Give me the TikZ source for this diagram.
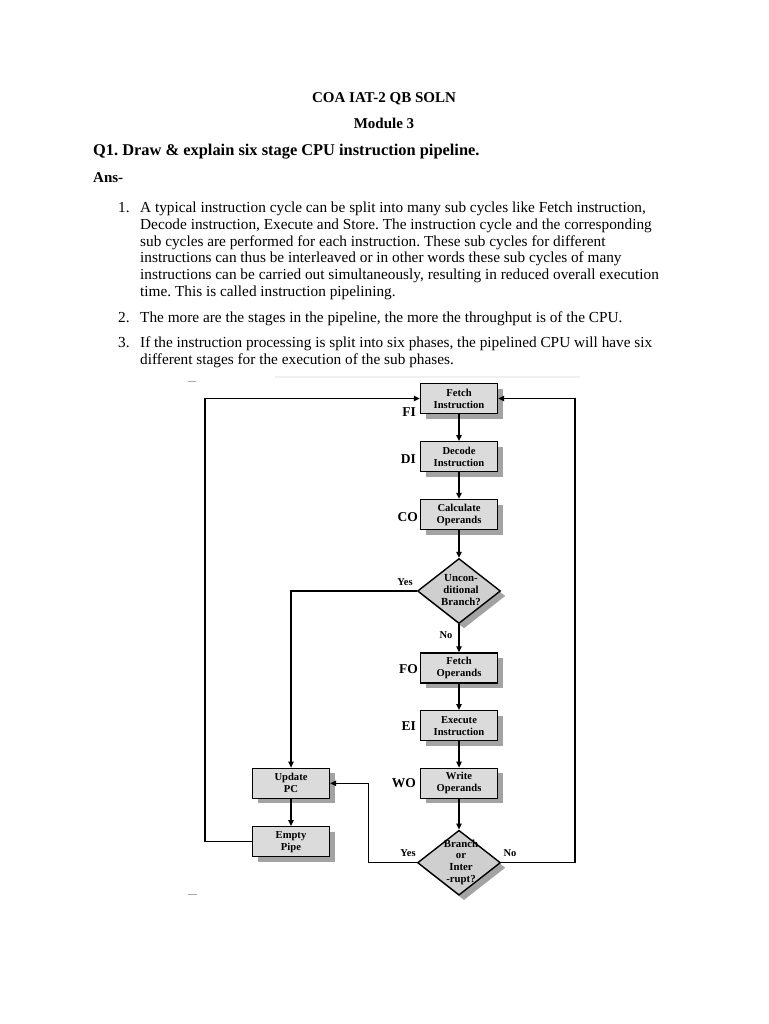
\documentclass[tikz,border=0pt]{standalone}
\usepackage{fontspec}
\setmainfont{Liberation Serif}
\usetikzlibrary{shapes.geometric,arrows.meta,shadows}
\begin{document}
\frenchspacing
\begin{tikzpicture}[x=1pt,y=-1pt,
  txt/.style={inner sep=0pt,anchor=base west,font=\fontsize{15.3}{17}\selectfont},
  boxst/.style={draw,line width=1.4pt,fill=gray!28,minimum width=77pt,minimum height=30pt,inner sep=0pt,
    align=center,font=\bfseries\fontsize{10.6}{12}\selectfont,
    general shadow={fill=gray!72,shadow xshift=5pt,shadow yshift=-5pt}},
  dia/.style={diamond,draw,line width=1.4pt,fill=gray!38,minimum width=83pt,minimum height=65pt,inner sep=0pt,
    general shadow={fill=gray!72,shadow xshift=5pt,shadow yshift=-5pt}},
  diatxt/.style={inner sep=0pt,align=center,font=\bfseries\fontsize{10.8}{11.6}\selectfont},
  stage/.style={inner sep=0pt,anchor=east,font=\bfseries\fontsize{13.5}{14}\selectfont},
  yn/.style={inner sep=0pt,font=\bfseries\fontsize{10.5}{11}\selectfont},
  conn/.style={line width=1.2pt},
  arr/.style={conn,-{Triangle[length=6pt,width=5.5pt]}}]
\useasboundingbox (0,0) rectangle (768,1024);
\fill[white] (0,0) rectangle (768,1024);
% text
\node[txt,anchor=base,font=\bfseries\fontsize{15}{17}\selectfont] (t1) at (384,103) {COA IAT-2 QB SOLN};
\node[txt,anchor=base,font=\bfseries\fontsize{15}{17}\selectfont] (t2) at (384,129) {Module 3};
\node[txt,font=\bfseries\fontsize{16.4}{18}\selectfont] (t3) at (93,156) {Q1. Draw \& explain six stage CPU instruction pipeline.};
\node[txt,font=\bfseries\fontsize{15}{17}\selectfont] (t4) at (93,183) {Ans-};
\node[txt] (n1) at (118,213) {1.};
\node[txt] (l1) at (140,213) {A typical instruction cycle can be split into many sub cycles like Fetch instruction,};
\node[txt] (l2) at (140,229.6) {Decode instruction, Execute and Store. The instruction cycle and the corresponding};
\node[txt] (l3) at (140,246.2) {sub cycles are performed for each instruction. These sub cycles for different};
\node[txt] (l4) at (140,262.8) {instructions can thus be interleaved or in other words these sub cycles of many};
\node[txt] (l5) at (140,279.4) {instructions can be carried out simultaneously, resulting in reduced overall execution};
\node[txt] (l6) at (140,296) {time. This is called instruction pipelining.};
\node[txt] (n2) at (118,322) {2.};
\node[txt] (l7) at (140,322) {The more are the stages in the pipeline, the more the throughput is of the CPU.};
\node[txt] (n3) at (118,347.5) {3.};
\node[txt] (l8) at (140,347.5) {If the instruction processing is split into six phases, the pipelined CPU will have six};
\node[txt] (l9) at (140,364) {different stages for the execution of the sub phases.};
% faint frame line and marks
\draw[gray!12,line width=1.5pt] (275,377) -- (580,377);
\draw[line width=0.8pt,gray!70] (188,381) -- (196,381);
\draw[line width=0.8pt,gray!70] (188,894) -- (197,894);
% flowchart
\node[boxst] (fi) at (459,398.5) {Fetch\\Instruction};
\node[boxst] (di) at (459,456.7) {Decode\\Instruction};
\node[boxst] (co) at (459,514.5) {Calculate\\Operands};
\node[dia] (d1) at (459,591) {};
\node[diatxt] (d1t) at (461,590) {Uncon-\\ditional\\Branch?};
\node[boxst] (fo) at (459,668) {Fetch\\Operands};
\node[boxst] (ei) at (459,725.7) {Execute\\Instruction};
\node[boxst] (wo) at (459,783.3) {Write\\Operands};
\node[dia] (d2) at (459,862.7) {};
\node[diatxt] (d2t) at (461,862) {Branch\\or\\Inter\\-rupt?};
\node[boxst] (up) at (291,783.3) {Update\\PC};
\node[boxst] (ep) at (291,841.7) {Empty\\Pipe};
% stage labels
\node[stage] (sfi) at (416,412) {FI};
\node[stage] (sdi) at (416,459) {DI};
\node[stage] (sco) at (418,517) {CO};
\node[stage] (sfo) at (418,669) {FO};
\node[stage] (sei) at (416,725.7) {EI};
\node[stage] (swo) at (416,783) {WO};
% yes/no labels
\node[yn] (y1) at (405,581.7) {Yes};
\node[yn] (no1) at (446,635) {No};
\node[yn] (y2) at (408,853) {Yes};
\node[yn] (no2) at (510,853) {No};
% connectors
\draw[arr] (fi) -- (di);
\draw[arr] (di) -- (co);
\draw[arr] (co) -- (d1);
\draw[arr] (d1) -- (fo);
\draw[arr] (fo) -- (ei);
\draw[arr] (ei) -- (wo);
\draw[arr] (wo) -- (d2);
\draw[arr] (d1.west) -| (up.north);
\draw[arr] (up) -- (ep);
\coordinate (ll) at (205,841.7);
\coordinate (rr) at (575,862.7);
\coordinate (mm) at (368.3,862.7);
\draw[arr] (ep.west) -- (ll) |- (fi.west);
\draw[arr] (d2.east) -- (rr) |- (fi.east);
\draw[arr] (d2.west) -- (mm) |- (up.east);
\end{tikzpicture}
\end{document}
